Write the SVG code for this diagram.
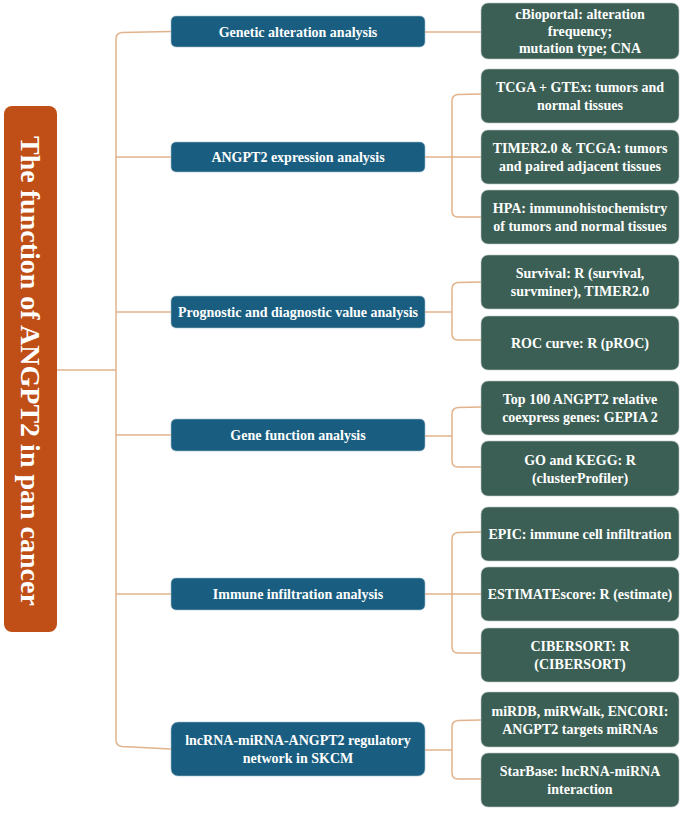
<svg xmlns="http://www.w3.org/2000/svg" width="685" height="816" viewBox="0 0 685 816">
<style>
.root{fill:#BF4F17}
.l1{fill:#195E80;stroke:#9fbccb;stroke-width:0.6}
.l2{fill:#3C5F55;stroke:#b9c8c2;stroke-width:0.6}
.t{font-family:"Liberation Serif","Times New Roman",serif;font-weight:bold;fill:#ffffff;text-anchor:middle;font-size:14px}
.rt{font-family:"Liberation Serif","Times New Roman",serif;font-weight:bold;fill:#ffffff;text-anchor:middle;font-size:28px}
.c{fill:none;stroke:#E2B38A;stroke-width:1.5}
</style>
<rect width="685" height="816" fill="#ffffff"/>
<g id="connectors">
<path class="c" d="M57,370 H116"/>
<path class="c" d="M171,31.5 L122,32.5 Q116,33 116,39 V740 Q116,746 122,746.5 L171,749"/>
<path class="c" d="M116,157 H171"/>
<path class="c" d="M116,312 H171"/>
<path class="c" d="M116,435 H171"/>
<path class="c" d="M116,594 H171"/>
<path class="c" d="M425,32 H481"/>
<path class="c" d="M425,157 H481"/>
<path class="c" d="M481,94 L458,94.5 Q452,95 452,101 V211 Q452,217 458,217 L481,217"/>
<path class="c" d="M425,312 H452"/>
<path class="c" d="M481,282 L458,282.5 Q452,283 452,289 V334 Q452,340 458,340 L481,340"/>
<path class="c" d="M425,436 H452"/>
<path class="c" d="M481,407 L458,407.5 Q452,408 452,414 V461 Q452,467 458,467 L481,467"/>
<path class="c" d="M425,594 H481"/>
<path class="c" d="M481,532 L458,532.5 Q452,533 452,539 V647 Q452,653 458,653 L481,653"/>
<path class="c" d="M425,750 H452"/>
<path class="c" d="M481,720 L458,720.5 Q452,721 452,727 V773 Q452,779 458,779 L481,779"/>
</g>
<g id="root">
<rect class="root" x="4" y="106" width="53" height="526" rx="8"/>
<text class="rt" transform="translate(30.5,371) rotate(90)" y="10">The function of ANGPT2 in pan cancer</text>
</g>
<g id="n-genetic">
<rect class="l1" x="171" y="16" width="254" height="31" rx="5"/>
<text class="t" x="298" y="36.5">Genetic alteration analysis</text>
</g>
<g id="n-expression">
<rect class="l1" x="171" y="142" width="254" height="30" rx="5"/>
<text class="t" x="298" y="162">ANGPT2 expression analysis</text>
</g>
<g id="n-prognostic">
<rect class="l1" x="171" y="296" width="254" height="32" rx="5"/>
<text class="t" x="298" y="317">Prognostic and diagnostic value analysis</text>
</g>
<g id="n-genefunction">
<rect class="l1" x="171" y="419" width="254" height="32" rx="5"/>
<text class="t" x="298" y="440">Gene function analysis</text>
</g>
<g id="n-immune">
<rect class="l1" x="171" y="578" width="254" height="32" rx="5"/>
<text class="t" x="298" y="599">Immune infiltration analysis</text>
</g>
<g id="n-lncrna">
<rect class="l1" x="171" y="722" width="254" height="54" rx="7"/>
<text class="t" x="298" y="745">lncRNA-miRNA-ANGPT2 regulatory</text>
<text class="t" x="298" y="763">network in SKCM</text>
</g>
<g id="n-cbioportal">
<rect class="l2" x="481" y="3" width="198" height="56" rx="7"/>
<text class="t" x="580" y="19">cBioportal: alteration</text>
<text class="t" x="580" y="36">frequency;</text>
<text class="t" x="580" y="53">mutation type; CNA</text>
</g>
<g id="n-tcga">
<rect class="l2" x="481" y="69" width="198" height="54" rx="7"/>
<text class="t" x="580" y="92">TCGA + GTEx: tumors and</text>
<text class="t" x="580" y="110">normal tissues</text>
</g>
<g id="n-timer">
<rect class="l2" x="481" y="130" width="198" height="54" rx="7"/>
<text class="t" x="580" y="153">TIMER2.0 &amp; TCGA: tumors</text>
<text class="t" x="580" y="171">and paired adjacent tissues</text>
</g>
<g id="n-hpa">
<rect class="l2" x="481" y="190" width="198" height="54" rx="7"/>
<text class="t" x="580" y="213">HPA: immunohistochemistry</text>
<text class="t" x="580" y="231">of tumors and normal tissues</text>
</g>
<g id="n-survival">
<rect class="l2" x="481" y="255" width="198" height="54" rx="7"/>
<text class="t" x="580" y="278">Survival: R (survival,</text>
<text class="t" x="580" y="296">survminer), TIMER2.0</text>
</g>
<g id="n-roc">
<rect class="l2" x="481" y="316" width="198" height="54" rx="7"/>
<text class="t" x="580" y="348">ROC curve: R (pROC)</text>
</g>
<g id="n-top100">
<rect class="l2" x="481" y="381" width="198" height="54" rx="7"/>
<text class="t" x="580" y="404">Top 100 ANGPT2 relative</text>
<text class="t" x="580" y="422">coexpress genes: GEPIA 2</text>
</g>
<g id="n-go">
<rect class="l2" x="481" y="441" width="198" height="55" rx="7"/>
<text class="t" x="580" y="465">GO and KEGG: R</text>
<text class="t" x="580" y="483">(clusterProfiler)</text>
</g>
<g id="n-epic">
<rect class="l2" x="481" y="507" width="198" height="54" rx="7"/>
<text class="t" x="580" y="539">EPIC: immune cell infiltration</text>
</g>
<g id="n-estimate">
<rect class="l2" x="481" y="567" width="198" height="54" rx="7"/>
<text class="t" x="580" y="599">ESTIMATEscore: R (estimate)</text>
</g>
<g id="n-cibersort">
<rect class="l2" x="481" y="628" width="198" height="54" rx="7"/>
<text class="t" x="580" y="651">CIBERSORT: R</text>
<text class="t" x="580" y="669">(CIBERSORT)</text>
</g>
<g id="n-mirdb">
<rect class="l2" x="481" y="692" width="198" height="55" rx="7"/>
<text class="t" x="580" y="716">miRDB, miRWalk, ENCORI:</text>
<text class="t" x="580" y="734">ANGPT2 targets miRNAs</text>
</g>
<g id="n-starbase">
<rect class="l2" x="481" y="753" width="198" height="54" rx="7"/>
<text class="t" x="580" y="776">StarBase: lncRNA-miRNA</text>
<text class="t" x="580" y="794">interaction</text>
</g>
</svg>
